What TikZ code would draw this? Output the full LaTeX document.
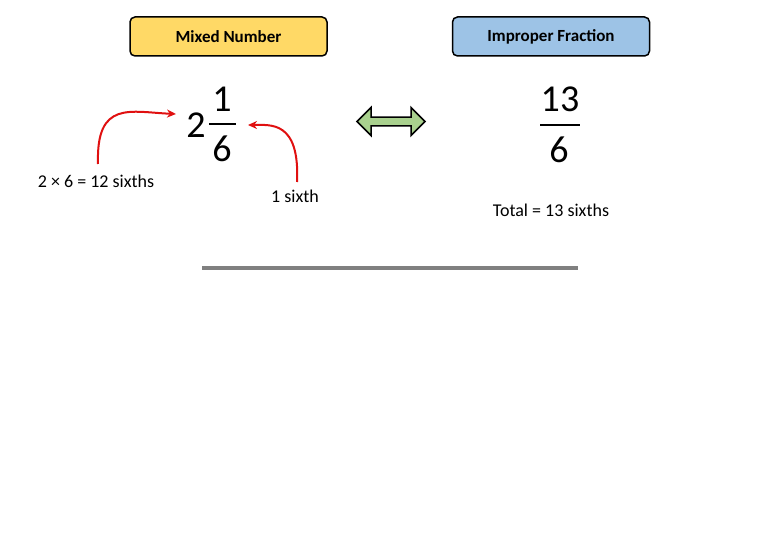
\documentclass[tikz,border=0pt]{standalone}
\usepackage{fontspec}
\setmainfont{Carlito}
\usetikzlibrary{shapes.arrows,arrows.meta}
\definecolor{ybox}{HTML}{FFD966}
\definecolor{bbox}{HTML}{9DC3E6}
\definecolor{garrow}{HTML}{A9D18E}
\definecolor{redc}{HTML}{E01010}
\begin{document}
\begin{tikzpicture}[x=1pt,y=-1pt,
  hdr/.style={draw=black,line width=1.5pt,rounded corners=5pt,minimum width=197pt,minimum height=39pt,font=\fontsize{17}{19}\selectfont\bfseries},
  lbl/.style={font=\fontsize{18}{20}\selectfont},
  dig/.style={font=\fontsize{38}{40}\selectfont,inner sep=0pt},
  redarr/.style={draw=redc,line width=2pt,-{Stealth[length=9pt,width=8pt]}}]
\useasboundingbox (0,0) rectangle (780,540);
\node[hdr,fill=ybox] (mixed) at (228.5,36.5) {Mixed Number};
\node[hdr,fill=bbox] (improper) at (551,36.5) {Improper Fraction};
\node[dig] (two) at (196,125) {2};
\node[dig] (one) at (222,99) {1};
\node[dig] (six) at (222,149) {6};
\draw[line width=1.5pt] (209,124) -- (236,124);
\node[dig] (thirteen) at (560,99) {13};
\node[dig] (sixb) at (559,150) {6};
\draw[line width=1.5pt] (540,125) -- (580,125);
\node[single arrow,double arrow,draw=black,line width=1.5pt,fill=garrow,minimum width=28pt,minimum height=68pt,single arrow head extend=4pt,double arrow head extend=4pt,inner sep=1pt] (darr) at (391,121.5) {};
\node[lbl] (twelve) at (96,181) {2 × 6 = 12 sixths};
\node[lbl] (onesixth) at (295,196) {1 sixth};
\node[lbl] (total) at (551,210) {Total = 13 sixths};
\coordinate (la) at (98,164);
\coordinate (lb) at (176,114);
\coordinate (ra) at (297,182);
\coordinate (rb) at (248,125);
\draw[redarr] (la) .. controls (96,100) and (130,112) .. (lb);
\draw[redarr] (ra) .. controls (300,120) and (270,125) .. (rb);
\coordinate (g1) at (202,268);
\coordinate (g2) at (578,268);
\draw[gray,line width=4pt] (g1) -- (g2);
\end{tikzpicture}
\end{document}
